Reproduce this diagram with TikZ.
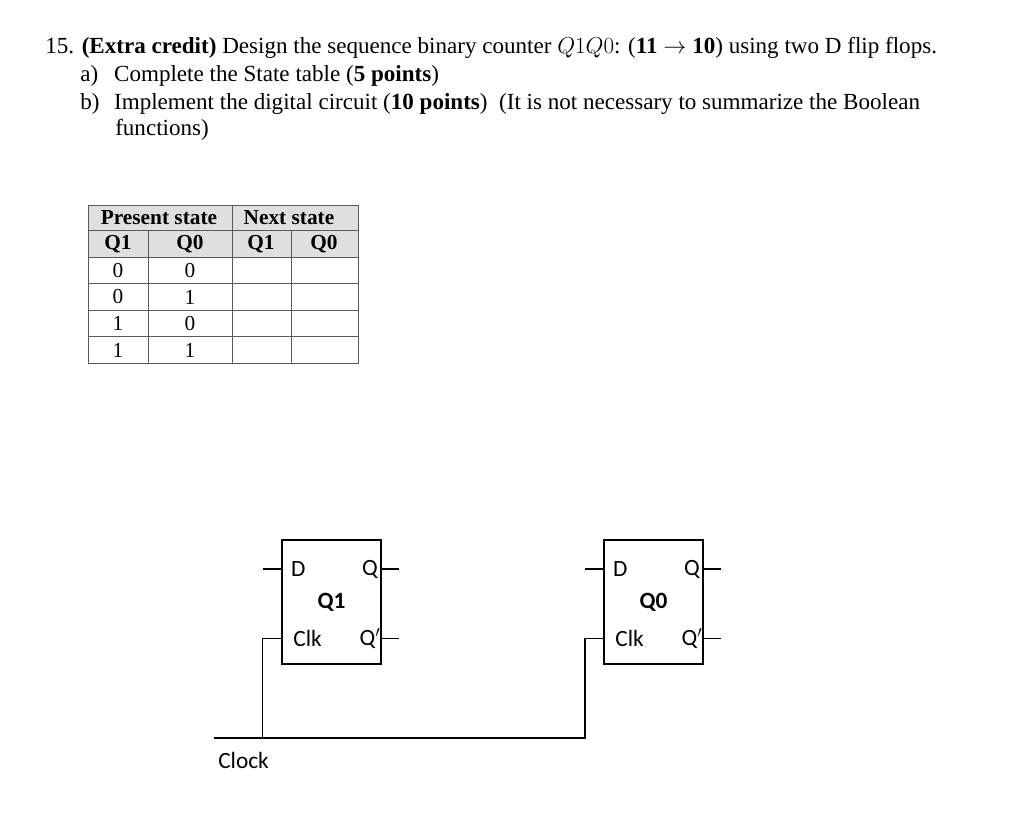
\documentclass[tikz,border=0pt]{standalone}
\usepackage{fontspec}
\setmainfont{Liberation Serif}
\newfontfamily\carlito{Carlito}
\usetikzlibrary{positioning}
\begin{document}
\begin{tikzpicture}[x=0.75pt, y=-0.75pt,
	every node/.style={inner sep=0pt},
	txt/.style={anchor=west, font=\fontsize{17.3}{20}\selectfont},
	cell/.style={font=\fontsize{16}{18}\selectfont},
	flipflop/.style={draw, line width=1.8pt, minimum width=74pt, minimum height=93pt},
	pin/.style={font=\carlito\fontsize{17.5}{20}\selectfont},
	wire/.style={line width=1.1pt}]

	\useasboundingbox (0,0) rectangle (1022,832);

	% Question text
	\node[txt] (title) at (45,48) {15. \textbf{(Extra credit)} Design the sequence binary counter $Q1Q0$: (\textbf{11} $\rightarrow$ \textbf{10}) using two D flip flops.};
	\node[txt] (parta) at (80,76) {a)\hspace{12pt}Complete the State table (\textbf{5 points})};
	\node[txt] (partb) at (80,104) {b)\hspace{11pt}Implement the digital circuit (\textbf{10 points}) \ (It is not necessary to summarize the Boolean};
	\node[txt] (partb2) at (115,130) {functions)};

	% State table
	\fill[gray!25] (88,205) rectangle (358,257);
	\draw[gray!70!black] (88,205) rectangle (358,363);
	\foreach \y in {230,257,283,310,336}
		\draw[gray!70!black] (88,\y) -- (358,\y);
	\draw[gray!70!black] (232,205) -- (232,363);
	\foreach \x in {148,291}
		\draw[gray!70!black] (\x,230) -- (\x,363);
	\node[cell] (present) at (159,218) {\textbf{Present state}};
	\node[cell] (next) at (289,218) {\textbf{Next state}};
	\node[cell] (hq1) at (118,244) {\textbf{Q1}};
	\node[cell] (hq0) at (190,244) {\textbf{Q0}};
	\node[cell] (nq1) at (261,244) {\textbf{Q1}};
	\node[cell] (nq0) at (324,244) {\textbf{Q0}};
	\foreach \a/\b [count=\i] in {0/0,0/1,1/0,1/1} {
		\node[cell] (pa\i) at (118,244+26.5*\i) {\a};
		\node[cell] (pb\i) at (190,244+26.5*\i) {\b};
	}

	% Flip flops
	\node[flipflop] (ff1) at (331.5,602) {};
	\node[flipflop] (ff0) at (653.5,602) {};
	\foreach \ff/\lab in {ff1/Q1,ff0/Q0} {
		\node[pin] at ([xshift=13pt,yshift=-23pt]\ff.north west) {D};
		\node[pin] at ([xshift=-9pt,yshift=-23pt]\ff.north east) {Q};
		\node[pin] at ([xshift=20pt,yshift=20pt]\ff.south west) {Clk};
		\node[pin] at ([xshift=-9pt,yshift=20pt]\ff.south east) {Q$'$};
		\node[pin] at (\ff.center) {\textbf{\lab}};
		\coordinate (\ff d) at ([yshift=-22.5pt]\ff.north west);
		\coordinate (\ff q) at ([yshift=-22.5pt]\ff.north east);
		\coordinate (\ff c) at ([yshift=20pt]\ff.south west);
		\coordinate (\ff n) at ([yshift=20pt]\ff.south east);
		\draw[wire] (\ff d) -- ++(-13.5pt,0);
		\draw[wire] (\ff q) -- ++(13pt,0);
		\draw[wire] (\ff n) -- ++(13pt,0);
	}

	% Clock wiring
	\coordinate (clkin) at (214,738);
	\draw[wire] (clkin) -- (585,738) |- (ff0c);
	\draw[wire] (ff1c) -- ++(-14pt,0) coordinate (tap) -- (tap |- clkin);
	\node[pin, anchor=west] (clock) at (218,760) {Clock};

\end{tikzpicture}
\end{document}
